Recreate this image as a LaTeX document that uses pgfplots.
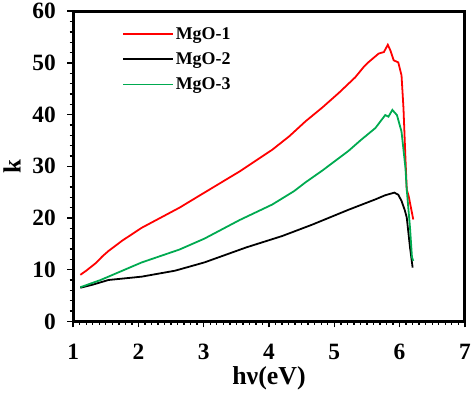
\documentclass[border=0pt]{standalone}
\usepackage{pgfplots}
\pgfplotsset{compat=1.18}
\usepackage{fontspec}
\setmainfont{Liberation Serif}
\definecolor{mred}{RGB}{255,0,0}
\definecolor{mgreen}{RGB}{0,170,80}
\begin{document}
\begin{tikzpicture}
\begin{axis}[
  scale only axis, width=394pt, height=312pt,
  xmin=1, xmax=7, ymin=0, ymax=60,
  xtick={1,2,3,4,5,6,7}, ytick={0,10,20,30,40,50,60},
  minor x tick num=9, minor y tick num=4,
  tick align=outside, xtick pos=left, ytick pos=left,
  major tick length=6pt, minor tick length=3.5pt,
  every tick/.style={line width=1.4pt, black},
  axis line style={line width=3pt},
  /pgf/number format/assume math mode=true,
  tick label style={font=\bfseries\fontsize{23.5}{23.5}\selectfont},
  xticklabel style={yshift=-13pt},
  yticklabel style={xshift=-8pt},
  xlabel={hν(eV)}, ylabel={k},
  xlabel style={font=\bfseries\fontsize{26}{26}\selectfont, yshift=0pt},
  ylabel style={font=\bfseries\fontsize{25}{25}\selectfont, yshift=5pt},
  legend style={at={(0.125,0.955)}, anchor=north west, draw=none, fill=none,
    font=\bfseries\fontsize{18}{18}\selectfont, row sep=8pt, inner sep=0pt},
  legend cell align=left,
  legend image code/.code={\draw[#1, line width=1.8pt] (0pt,0pt) -- (50pt,0pt);},
  every axis plot/.append style={line width=1.8pt},
]
\addplot[mred] coordinates {
(1.11,9.0) (1.20,9.8) (1.34,11.2) (1.45,12.6) (1.54,13.6) (1.75,15.6) (2.05,18.1)
(2.63,22.0) (3.01,24.9) (3.55,29.0) (4.05,33.2) (4.31,35.8) (4.56,38.7) (4.82,41.4)
(5.07,44.2) (5.32,47.2) (5.45,49.2) (5.53,50.2) (5.68,51.8) (5.76,52.1) (5.82,53.5)
(5.86,52.4) (5.91,50.5) (5.98,50.1) (6.03,47.6) (6.06,41.2) (6.09,31.6) (6.11,25.5)
(6.14,24.2) (6.21,19.7)
};
\addlegendentry{MgO-1}
\addplot[black] coordinates {
(1.11,6.5) (1.30,7.1) (1.54,8.0) (2.05,8.65) (2.56,9.8) (3.01,11.4) (3.65,14.3)
(4.20,16.5) (4.66,18.7) (5.22,21.6) (5.63,23.6) (5.78,24.4) (5.92,24.9) (5.98,24.5)
(6.03,23.3) (6.08,21.5) (6.11,20.1) (6.16,14.3) (6.20,10.4)
};
\addlegendentry{MgO-2}
\addplot[mgreen] coordinates {
(1.11,6.6) (1.42,8.0) (2.05,11.4) (2.63,13.9) (3.01,16.0) (3.55,19.6) (4.05,22.6)
(4.385,25.2) (4.56,26.9) (4.82,29.2) (5.22,33.0) (5.40,35.0) (5.63,37.4) (5.78,39.9)
(5.83,39.6) (5.89,40.9) (5.96,39.9) (6.03,36.7) (6.09,29.7) (6.11,25.5) (6.16,18.1)
(6.19,12.4) (6.21,11.7)
};
\addlegendentry{MgO-3}
\end{axis}
\path[use as bounding box] ([shift={(-73pt,-65pt)}]current axis.south west) rectangle ([shift={(7pt,10pt)}]current axis.north east);
\end{tikzpicture}
\end{document}
